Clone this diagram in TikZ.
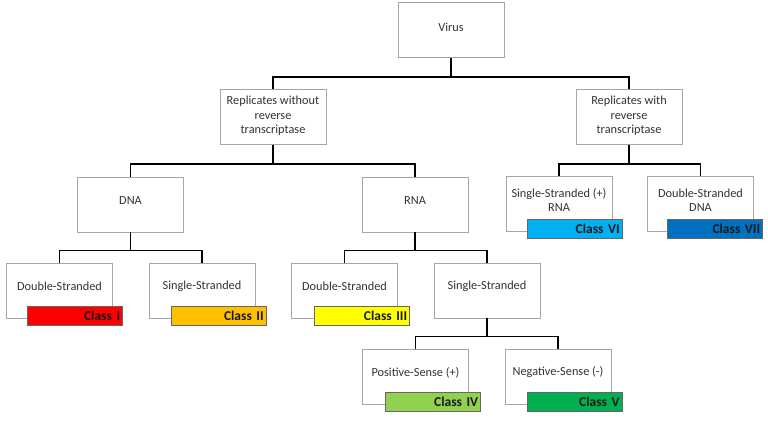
\documentclass[tikz,border=0pt]{standalone}
\usepackage{fontspec}
\setmainfont{Carlito}
\definecolor{boxline}{HTML}{A6A6A6}
\definecolor{txt}{HTML}{333333}
\definecolor{tagtxt}{HTML}{1A1A1A}
\definecolor{cI}{HTML}{FF0000}
\definecolor{cII}{HTML}{FFC000}
\definecolor{cIII}{HTML}{FFFF00}
\definecolor{cIV}{HTML}{92D050}
\definecolor{cV}{HTML}{00B050}
\definecolor{cVI}{HTML}{00B0F0}
\definecolor{cVII}{HTML}{0070C0}
\begin{document}
\begin{tikzpicture}[x=1pt,y=1pt,
  box/.style={draw=boxline, line width=0.8pt, fill=white, minimum width=106pt, minimum height=55pt,
    inner sep=0pt, align=center, text=txt},
  lbl/.style={inner sep=0pt, align=center, text=txt, font=\fontsize{12.3}{14.5}\selectfont},
  tag/.style={draw=black!60, line width=0.6pt, minimum height=19pt, text width=90pt, inner xsep=2.5pt,
    inner ysep=0pt, align=right, text=tagtxt, font=\bfseries\fontsize{13.5}{15}\selectfont},
  conn/.style={line width=1.6pt, black}]
\useasboundingbox (0,0) rectangle (768,426);
% boxes (image y flipped: 426 - y)
\node[box] (virus) at (451,396) {};
\node[box] (rwo) at (273,309) {};
\node[box] (rw) at (629,309) {};
\node[box] (dna) at (130.5,221.5) {};
\node[box] (rna) at (415,221.5) {};
\node[box] (ssr) at (559,222) {};
\node[box] (dsd) at (700.5,222) {};
\node[box] (ds1) at (59.5,135.5) {};
\node[box] (ss2) at (202,135.5) {};
\node[box] (ds3) at (344.5,135.5) {};
\node[box] (ss) at (487,135.5) {};
\node[box] (pos) at (415.5,49.5) {};
\node[box] (neg) at (558,49.5) {};
% labels
\node[lbl] at ([yshift=3pt]virus.center) {Virus};
\node[lbl] at ([yshift=1pt]rwo.center) {Replicates without\\reverse\\transcriptase};
\node[lbl] at ([yshift=1pt]rw.center) {Replicates with\\reverse\\transcriptase};
\node[lbl] at ([yshift=4pt]dna.center) {DNA};
\node[lbl] at ([yshift=4pt]rna.center) {RNA};
\node[lbl] at ([yshift=4pt]ssr.center) {Single-Stranded (+)\\RNA};
\node[lbl] at ([yshift=4pt]dsd.center) {Double-Stranded\\DNA};
\node[lbl] at ([yshift=4pt]ds1.center) {Double-Stranded};
\node[lbl] at ([yshift=4pt]ss2.center) {Single-Stranded};
\node[lbl] at ([yshift=4pt]ds3.center) {Double-Stranded};
\node[lbl] at ([yshift=4pt]ss.center) {Single-Stranded};
\node[lbl] at ([yshift=4pt]pos.center) {Positive-Sense (+)};
\node[lbl] at ([yshift=4pt]neg.center) {Negative-Sense (-)};
% tags
\node[tag, fill=cI, anchor=south east] (t1) at ([shift={(10pt,-7pt)}]ds1.south east) {Class I};
\node[tag, fill=cII, anchor=south east] (t2) at ([shift={(11pt,-7pt)}]ss2.south east) {Class II};
\node[tag, fill=cIII, anchor=south east] (t3) at ([shift={(12pt,-7pt)}]ds3.south east) {Class III};
\node[tag, fill=cIV, anchor=south east] (t4) at ([shift={(12pt,-7pt)}]pos.south east) {Class IV};
\node[tag, fill=cV, anchor=south east] (t5) at ([shift={(11pt,-7pt)}]neg.south east) {Class V};
\node[tag, fill=cVI, anchor=south east] (t6) at ([shift={(10pt,-7pt)}]ssr.south east) {Class VI};
\node[tag, fill=cVII, anchor=south east] (t7) at ([shift={(9pt,-7pt)}]dsd.south east) {Class VII};
% connectors
\draw[conn] (virus.south) -- ++(0,-19) -| (rwo.north);
\draw[conn] (virus.south) -- ++(0,-19) -| (rw.north);
\draw[conn] (rwo.south) -- ++(0,-19) -| (dna.north);
\draw[conn] (rwo.south) -- ++(0,-19) -| (rna.north);
\draw[conn] (rw.south) -- ++(0,-19) -| (ssr.north);
\draw[conn] (rw.south) -- ++(0,-19) -| (dsd.north);
\draw[conn] (dna.south) -- ++(0,-18) -| (ds1.north);
\draw[conn] (dna.south) -- ++(0,-18) -| (ss2.north);
\draw[conn] (rna.south) -- ++(0,-18) -| (ds3.north);
\draw[conn] (rna.south) -- ++(0,-18) -| (ss.north);
\draw[conn] (ss.south) -- ++(0,-18) -| (pos.north);
\draw[conn] (ss.south) -- ++(0,-18) -| (neg.north);
\end{tikzpicture}
\end{document}
